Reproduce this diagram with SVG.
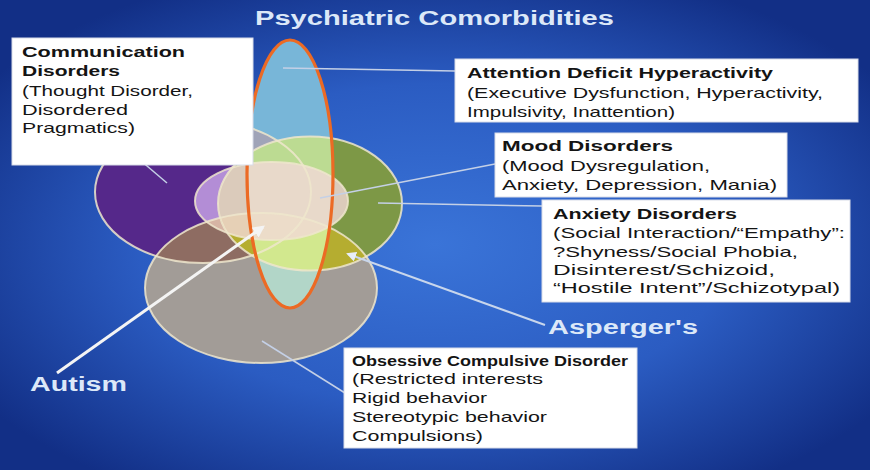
<svg xmlns="http://www.w3.org/2000/svg" width="870" height="470" viewBox="0 0 870 470">
<defs>
<radialGradient id="bg" cx="50%" cy="52%" r="62%">
<stop offset="0" stop-color="#3a74d8"/>
<stop offset="0.55" stop-color="#2b5cc2"/>
<stop offset="1" stop-color="#122f86"/>
</radialGradient>
<clipPath id="cPurple"><ellipse cx="203" cy="192" rx="108" ry="71"/></clipPath>
<clipPath id="cGray"><ellipse cx="261" cy="288" rx="116" ry="75"/></clipPath>
<clipPath id="cGreen"><ellipse cx="310" cy="203.5" rx="92" ry="67"/></clipPath>
<clipPath id="cTall"><ellipse cx="290" cy="174" rx="43" ry="134"/></clipPath>
<marker id="arrW" viewBox="0 0 10 10" refX="8" refY="5" markerWidth="4" markerHeight="4" orient="auto"><path d="M0,0 L10,5 L0,10 z" fill="#f4f4f4"/></marker>
<marker id="arrB" viewBox="0 0 10 10" refX="8" refY="5" markerWidth="5" markerHeight="5" orient="auto"><path d="M0,0 L10,5 L0,10 z" fill="#e8eef8"/></marker>
<style>
.box{fill:#ffffff;stroke:#d8dce8;stroke-width:1}
.t{font-family:"Liberation Sans",Arial,sans-serif;font-size:15px;fill:#141414}
.h{font-weight:bold}
.big{font-family:"Liberation Sans",Arial,sans-serif;font-size:20px;font-weight:bold;fill:#dce8f8}
.outl{fill:none;stroke:#efe6cc;stroke-width:2;stroke-opacity:0.85}
.ptr{stroke:#c4d0e6;stroke-width:1.5;fill:none}
</style>
</defs>
<rect width="870" height="470" fill="url(#bg)"/>
<text class="big" x="255" y="25" font-size="21" fill="#cfe2f7" textLength="359" lengthAdjust="spacingAndGlyphs">Psychiatric Comorbidities</text>

<g id="venn">
<ellipse cx="203" cy="192" rx="108" ry="71" fill="#55288a"/>
<ellipse cx="261" cy="288" rx="116" ry="75" fill="#a29c97"/>
<ellipse cx="203" cy="192" rx="108" ry="71" fill="#8e6c62" clip-path="url(#cGray)"/>
<ellipse cx="271.5" cy="201" rx="76.5" ry="39" fill="#b38dd6" clip-path="url(#cPurple)"/>
<ellipse cx="271.5" cy="201" rx="76.5" ry="39" fill="#d6b4a4" clip-path="url(#cGray)"/>
<ellipse cx="310" cy="203.5" rx="92" ry="67" fill="#7d9846"/>
<ellipse cx="310" cy="203.5" rx="92" ry="67" fill="#b5ad30" clip-path="url(#cGray)"/>
<ellipse cx="290" cy="174" rx="43" ry="134" fill="#78b6d8"/>
<ellipse cx="203" cy="192" rx="108" ry="71" fill="#a0a4b8" clip-path="url(#cTall)"/>
<ellipse cx="261" cy="288" rx="116" ry="75" fill="#b2d6c8" clip-path="url(#cTall)"/>
<ellipse cx="310" cy="203.5" rx="92" ry="67" fill="#bcdb92" clip-path="url(#cTall)"/>
<g clip-path="url(#cTall)"><ellipse cx="310" cy="203.5" rx="92" ry="67" fill="#d2e88e" clip-path="url(#cGray)"/></g>
<ellipse cx="271.5" cy="201" rx="76.5" ry="39" fill="#f2d8d8" fill-opacity="0.8" clip-path="url(#cGreen)"/>
<ellipse class="outl" cx="203" cy="192" rx="108" ry="71"/>
<ellipse class="outl" cx="261" cy="288" rx="116" ry="75"/>
<ellipse class="outl" cx="310" cy="203.5" rx="92" ry="67"/>
<ellipse class="outl" cx="271.5" cy="201" rx="76.5" ry="39"/>
<ellipse cx="290" cy="174" rx="43" ry="134" fill="none" stroke="#ec6a24" stroke-width="3.2"/>
</g>

<g id="connectors">
<line class="ptr" x1="167" y1="183" x2="140" y2="160"/>
<line class="ptr" x1="283" y1="68" x2="455" y2="71"/>
<line class="ptr" x1="320" y1="198" x2="495" y2="164"/>
<line class="ptr" x1="378" y1="203" x2="542" y2="206"/>
<line class="ptr" x1="262" y1="341" x2="345" y2="393"/>
<line x1="545" y1="325" x2="348" y2="254" stroke="#c8d6ec" stroke-width="2" marker-end="url(#arrB)"/>
<line x1="57" y1="373" x2="263" y2="227" stroke="#f4f4f4" stroke-width="3" marker-end="url(#arrW)"/>
</g>

<g id="communication">
<rect class="box" x="12" y="38" width="241" height="127"/>
<text class="t h" x="22" y="57" textLength="163" lengthAdjust="spacingAndGlyphs">Communication</text>
<text class="t h" x="22" y="76" textLength="98" lengthAdjust="spacingAndGlyphs">Disorders</text>
<text class="t" x="22" y="96" textLength="171" lengthAdjust="spacingAndGlyphs">(Thought Disorder,</text>
<text class="t" x="22" y="115" textLength="106" lengthAdjust="spacingAndGlyphs">Disordered</text>
<text class="t" x="22" y="133" textLength="113" lengthAdjust="spacingAndGlyphs">Pragmatics)</text>
</g>

<g id="adhd">
<rect class="box" x="455" y="59" width="403" height="63"/>
<text class="t h" x="467" y="78" textLength="306" lengthAdjust="spacingAndGlyphs">Attention Deficit Hyperactivity</text>
<text class="t" x="467" y="98" textLength="356" lengthAdjust="spacingAndGlyphs">(Executive Dysfunction, Hyperactivity,</text>
<text class="t" x="467" y="117" textLength="208" lengthAdjust="spacingAndGlyphs">Impulsivity, Inattention)</text>
</g>

<g id="mood">
<rect class="box" x="495" y="133" width="292" height="64"/>
<text class="t h" x="502" y="151" textLength="171" lengthAdjust="spacingAndGlyphs">Mood Disorders</text>
<text class="t" x="502" y="171" textLength="208" lengthAdjust="spacingAndGlyphs">(Mood Dysregulation,</text>
<text class="t" x="502" y="190" textLength="275" lengthAdjust="spacingAndGlyphs">Anxiety, Depression,  Mania)</text>
</g>

<g id="anxiety">
<rect class="box" x="542" y="200" width="308" height="102"/>
<text class="t h" x="553" y="219" textLength="184" lengthAdjust="spacingAndGlyphs">Anxiety Disorders</text>
<text class="t" x="553" y="238" textLength="292" lengthAdjust="spacingAndGlyphs">(Social Interaction/“Empathy”:</text>
<text class="t" x="553" y="257" textLength="245" lengthAdjust="spacingAndGlyphs">?Shyness/Social Phobia,</text>
<text class="t" x="553" y="275" textLength="222" lengthAdjust="spacingAndGlyphs">Disinterest/Schizoid,</text>
<text class="t" x="553" y="293" textLength="287" lengthAdjust="spacingAndGlyphs">“Hostile Intent”/Schizotypal)</text>
</g>

<g id="ocd">
<rect class="box" x="344" y="348" width="293" height="100"/>
<text class="t h" x="352" y="366" textLength="276" lengthAdjust="spacingAndGlyphs">Obsessive Compulsive Disorder</text>
<text class="t" x="352" y="384" textLength="191" lengthAdjust="spacingAndGlyphs">(Restricted interests</text>
<text class="t" x="352" y="403" textLength="135" lengthAdjust="spacingAndGlyphs">Rigid behavior</text>
<text class="t" x="352" y="422" textLength="195" lengthAdjust="spacingAndGlyphs">Stereotypic behavior</text>
<text class="t" x="352" y="441" textLength="131" lengthAdjust="spacingAndGlyphs">Compulsions)</text>
</g>

<g id="asperger">
<text class="big" x="548" y="334" textLength="150" lengthAdjust="spacingAndGlyphs">Asperger's</text>
</g>
<g id="autism">
<text class="big" x="30" y="391" textLength="97" lengthAdjust="spacingAndGlyphs">Autism</text>
</g>
</svg>
